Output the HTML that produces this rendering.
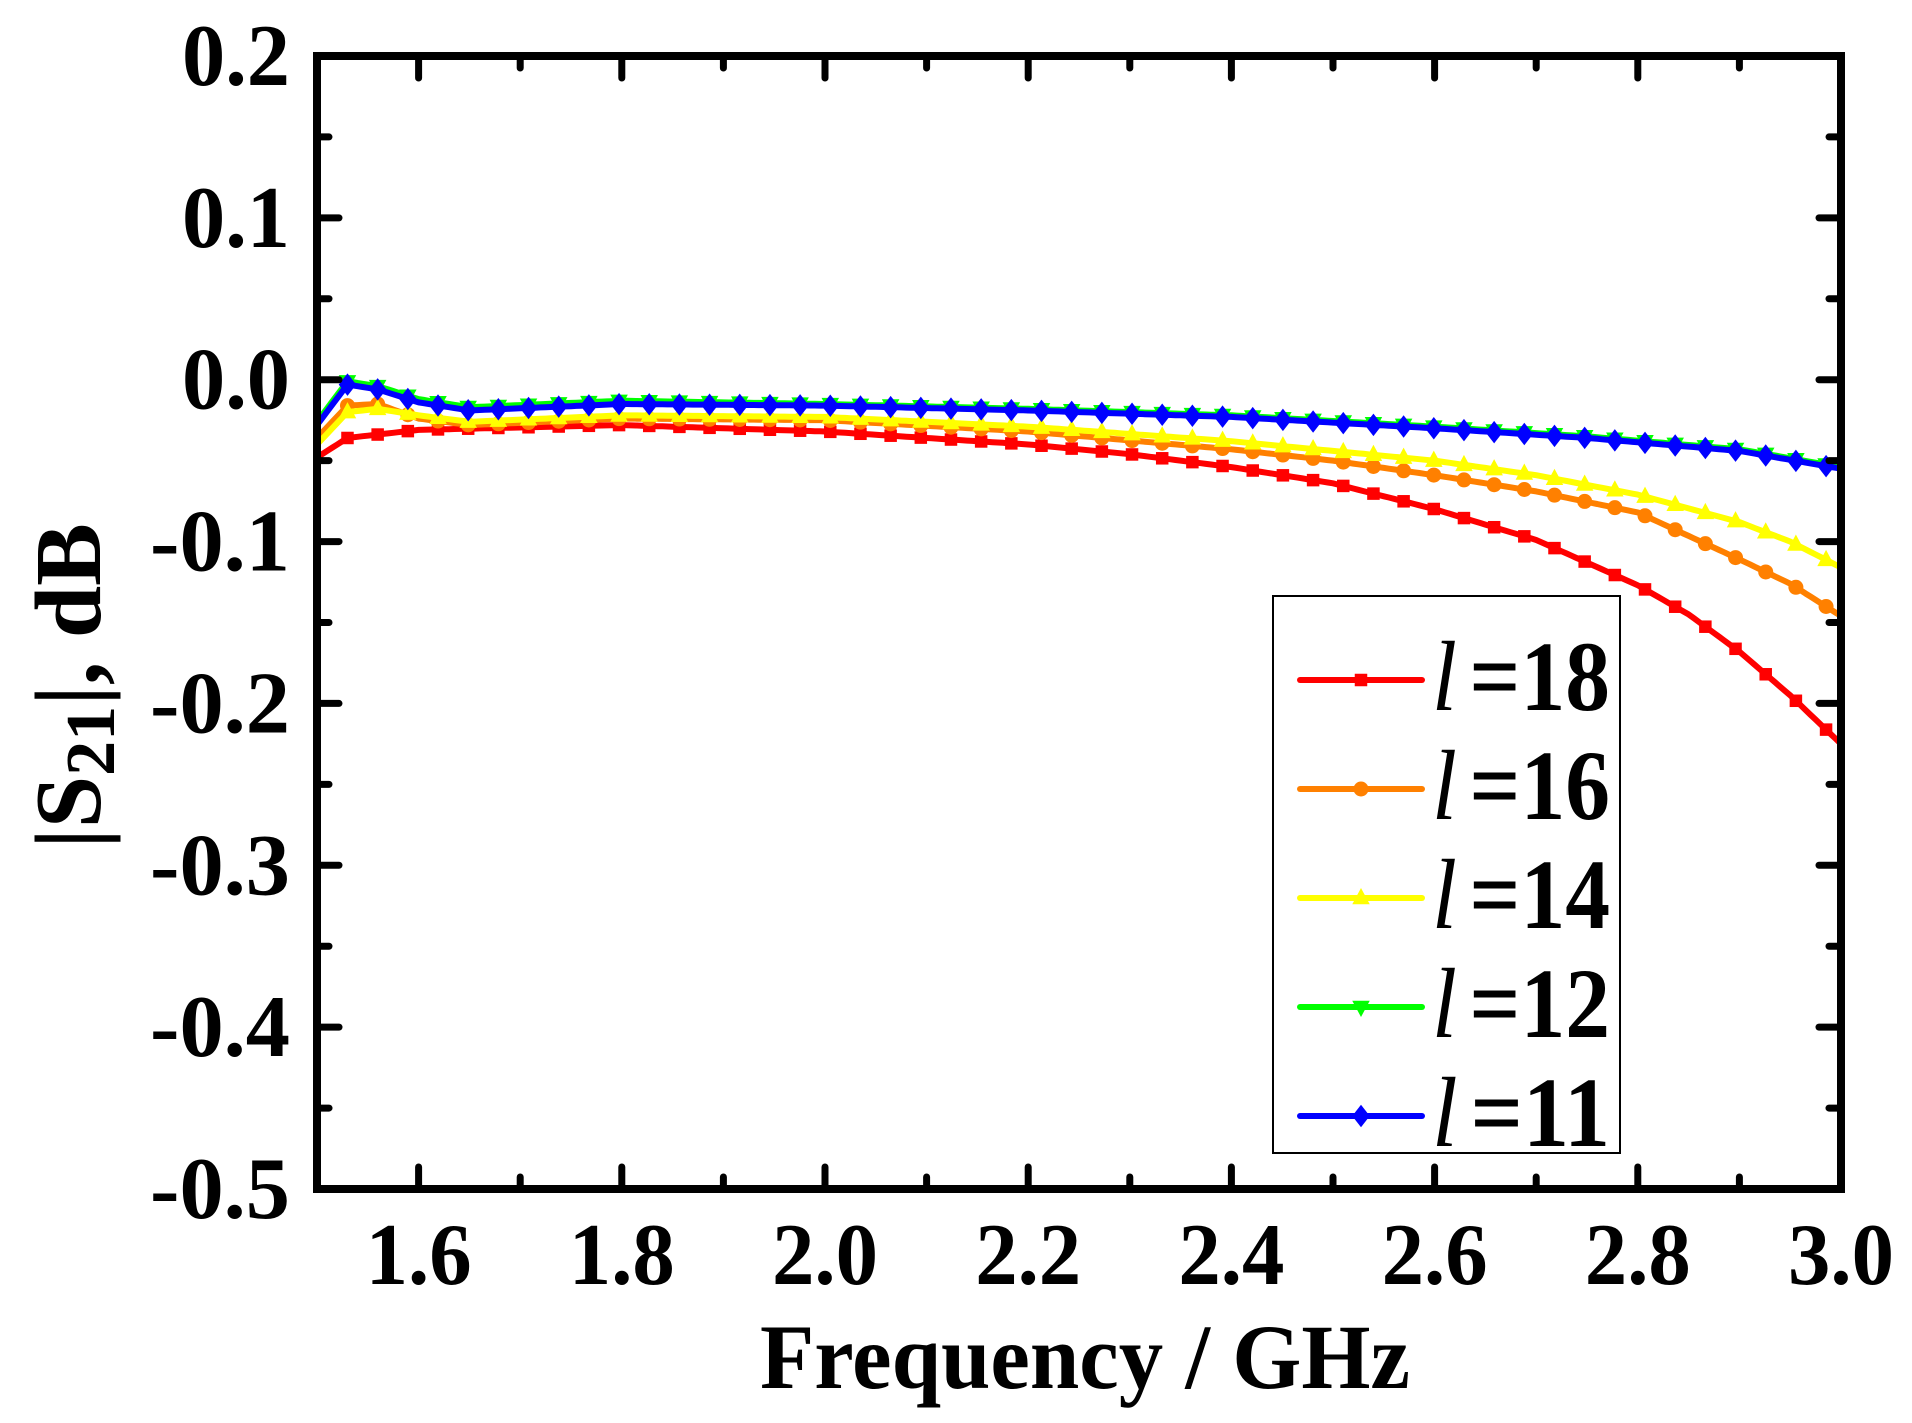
<!DOCTYPE html>
<html><head><meta charset="utf-8"><style>
html,body{margin:0;padding:0;background:#fff;}
svg{display:block;}
text{font-family:"Liberation Serif",serif;font-weight:bold;fill:#000;}
</style></head><body>
<svg id="s" width="1912" height="1423" viewBox="0 0 1912 1423" xmlns="http://www.w3.org/2000/svg">
<g id="data"></g>
<rect x="317" y="56" width="1524" height="1133" fill="none" stroke="#000" stroke-width="8"/>
<g id="ticks" stroke="#000" stroke-width="7" stroke-linecap="round"></g>
<g id="labels" font-size="88"></g>
<text x="1085" y="1388" font-size="92" text-anchor="middle" textLength="650" lengthAdjust="spacingAndGlyphs">Frequency / GHz</text>
<text transform="translate(100,686) rotate(-90)" font-size="94" text-anchor="middle">|S<tspan font-size="70" dy="14">21</tspan><tspan dy="-14">|, dB</tspan></text>
<rect x="1273" y="596" width="347" height="557" fill="#fff" stroke="#000" stroke-width="2"/>
<g id="legend"></g>
</svg>
<script>
const L=317,R=1841,T=56,B=1189;
const X=f=>L+(f-1.5)/1.5*(R-L);
const Y=v=>T+(0.2-v)/0.7*(B-T);
const ns="http://www.w3.org/2000/svg";
function el(p,t,a){const e=document.createElementNS(ns,t);for(const k in a)e.setAttribute(k,a[k]);p.appendChild(e);return e;}
const tk=document.getElementById('ticks'),lb=document.getElementById('labels');
for(let i=0;i<=14;i++){const v=0.2-i*0.05,y=Y(v),maj=i%2==0,len=maj?22:12;
 el(tk,'line',{x1:L,y1:y,x2:L+len,y2:y});el(tk,'line',{x1:R,y1:y,x2:R-len,y2:y});
 if(maj){const neg=v<-0.001;const t=el(lb,'text',{x:290,y:y+29,'text-anchor':'end',textLength:neg?140:108,lengthAdjust:'spacingAndGlyphs'});t.textContent=(neg?'-':'')+Math.abs(v).toFixed(1);}}
for(let i=0;i<=15;i++){const f=1.5+i*0.1,x=X(f),maj=i%2==1,len=maj?22:12;
 el(tk,'line',{x1:x,y1:B,x2:x,y2:B-len});el(tk,'line',{x1:x,y1:T,x2:x,y2:T+len});
 if(maj||i==15){const t=el(lb,'text',{x:x,y:1284,'text-anchor':'middle',textLength:106,lengthAdjust:'spacingAndGlyphs'});t.textContent=f.toFixed(1);}}
function interp(a,f){for(let i=0;i<a.length-1;i++){if(f<=a[i+1][0]){const t=(f-a[i][0])/(a[i+1][0]-a[i][0]);return a[i][1]+t*(a[i+1][1]-a[i][1]);}}return a[a.length-1][1];}
const S=[
 {c:'#ff0000',m:'sq',a:[[1.5,-0.048],[1.53,-0.036],[1.6,-0.031],[1.8,-0.028],[2.0,-0.032],[2.2,-0.040],[2.3,-0.046],[2.4,-0.054],[2.5,-0.064],[2.6,-0.080],[2.7,-0.099],[2.8,-0.127],[2.85,-0.145],[2.9,-0.168],[2.95,-0.195],[3.0,-0.225]]},
 {c:'#ff8000',m:'ci',a:[[1.5,-0.036],[1.53,-0.016],[1.56,-0.015],[1.6,-0.024],[1.65,-0.028],[1.8,-0.024],[2.0,-0.025],[2.2,-0.032],[2.4,-0.043],[2.5,-0.050],[2.6,-0.059],[2.7,-0.069],[2.8,-0.082],[2.9,-0.111],[2.95,-0.126],[3.0,-0.146]]},
 {c:'#ffff00',m:'tu',a:[[1.5,-0.040],[1.53,-0.020],[1.56,-0.018],[1.6,-0.022],[1.65,-0.026],[1.8,-0.022],[2.0,-0.023],[2.2,-0.029],[2.4,-0.038],[2.6,-0.050],[2.7,-0.059],[2.8,-0.071],[2.9,-0.088],[2.95,-0.100],[3.0,-0.116]]},
 {c:'#00ff00',m:'td',a:[[1.5,-0.026],[1.53,-0.001],[1.56,-0.004],[1.6,-0.012],[1.65,-0.017],[1.8,-0.013],[2.0,-0.015],[2.2,-0.018],[2.4,-0.022],[2.6,-0.029],[2.75,-0.035],[2.9,-0.043],[3.0,-0.054]]},
 {c:'#0000ff',m:'di',a:[[1.5,-0.028],[1.53,-0.003],[1.56,-0.006],[1.6,-0.014],[1.65,-0.019],[1.8,-0.015],[2.0,-0.016],[2.2,-0.019],[2.4,-0.023],[2.6,-0.030],[2.75,-0.036],[2.9,-0.044],[3.0,-0.055]]}];
function marker(g,m,x,y,c,s){s=s||1.25;
 if(m=='sq')el(g,'rect',{x:x-5*s,y:y-5*s,width:10*s,height:10*s,fill:c});
 else if(m=='ci')el(g,'circle',{cx:x,cy:y,r:6*s,fill:c});
 else if(m=='tu')el(g,'polygon',{points:`${x},${y-8*s} ${x-7*s},${y+5*s} ${x+7*s},${y+5*s}`,fill:c});
 else if(m=='td')el(g,'polygon',{points:`${x},${y+8*s} ${x-7*s},${y-5*s} ${x+7*s},${y-5*s}`,fill:c});
 else el(g,'polygon',{points:`${x},${y-9*s} ${x+7*s},${y} ${x},${y+9*s} ${x-7*s},${y}`,fill:c});}
const dg=document.getElementById('data');
S.forEach(s=>{let p=[];for(let f=1.5;f<=3.0001;f+=0.005)p.push(X(f).toFixed(1)+','+Y(interp(s.a,f)).toFixed(1));
 el(dg,'polyline',{points:p.join(' '),fill:'none',stroke:s.c,'stroke-width':6,'stroke-linejoin':'round'});
 for(let f=1.53;f<=3.0001;f+=0.0297)marker(dg,s.m,X(f),Y(interp(s.a,f)),s.c);});
const lg=document.getElementById('legend');const names=['18','16','14','12','11'];
S.forEach((s,i)=>{const y=680+i*109;
 el(lg,'line',{x1:1300,y1:y,x2:1422,y2:y,stroke:s.c,'stroke-width':6,'stroke-linecap':'round'});
 marker(lg,s.m,1361,y,s.c);
 const t=el(lg,'text',{x:1432,y:y+30,'font-size':100,textLength:178,lengthAdjust:'spacingAndGlyphs'});
 const a=el(t,'tspan',{'font-style':'italic','font-weight':'normal'});a.textContent='l';
 const b=el(t,'tspan',{dx:14});b.textContent='=';
 const c=el(t,'tspan',{});c.textContent=names[i];});
</script>
</body></html>
